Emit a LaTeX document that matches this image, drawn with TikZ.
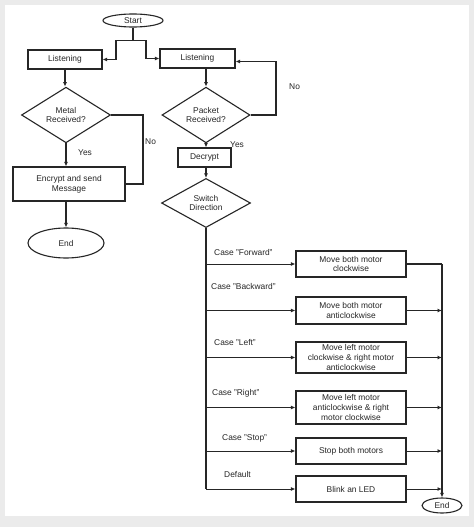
\documentclass[tikz,border=0pt]{standalone}
\usepackage{fontspec}
\setmainfont{Liberation Sans}
\usetikzlibrary{shapes.geometric,arrows.meta}
\begin{document}
\begin{tikzpicture}[x=1pt,y=-1pt,
  every node/.style={font=\fontsize{8.4}{9.8}\selectfont, text=black!85},
  procbox/.style={draw=black!85, line width=1.1pt, rectangle, inner sep=1pt, align=center},
  decision/.style={draw=black!85, line width=1.1pt, diamond, inner sep=0pt, align=center},
  terminal/.style={draw=black!85, line width=1.1pt, ellipse, inner sep=0pt, align=center},
  flow/.style={draw=black!85, line width=1.2pt},
  arr/.style={draw=black!85, line width=1.2pt, -{Latex[length=4.5pt,width=4pt]}},
  thinarr/.style={draw=black!85, line width=0.9pt, -{Latex[length=4.5pt,width=4pt]}},
  lbl/.style={anchor=west, inner sep=0pt}
]
\useasboundingbox (0,0) rectangle (474,527);
\fill[black!8] (0,0) rectangle (474,527);
\fill[white] (5,5) rectangle (469,516);

% nodes
\node[terminal, minimum width=60pt, minimum height=13pt] (start) at (133,20.5) {Start};
\node[procbox, minimum width=74pt, minimum height=19pt] (lis1) at (65,59.5) {Listening};
\node[procbox, minimum width=75pt, minimum height=19pt] (lis2) at (197.5,58.5) {Listening};
\node[decision, minimum width=89pt, minimum height=40pt] (metal) at (66,115) {Metal\\Received?};
\node[procbox, minimum width=112pt, minimum height=34pt] (enc) at (69,184) {Encrypt and send\\Message};
\node[terminal, minimum width=76pt, minimum height=30pt] (end1) at (66,243) {End};

\node[decision, minimum width=88pt, minimum height=40pt] (packet) at (206,115) {Packet\\Received?};
\node[procbox, minimum width=53pt, minimum height=19pt] (decrypt) at (204.5,157.5) {Decrypt};
\node[decision, minimum width=89pt, minimum height=42pt] (switch) at (206,203) {Switch\\Direction};

\node[procbox, minimum width=110pt, minimum height=26pt] (b1) at (351,264) {Move both motor\\clockwise};
\node[procbox, minimum width=110pt, minimum height=27pt] (b2) at (351,310.5) {Move both motor\\anticlockwise};
\node[procbox, minimum width=110pt, minimum height=31pt] (b3) at (351,357.5) {Move left motor\\clockwise \& right motor\\anticlockwise};
\node[procbox, minimum width=110pt, minimum height=33pt] (b4) at (351,407.5) {Move left motor\\anticlockwise \& right\\motor clockwise};
\node[procbox, minimum width=110pt, minimum height=26pt] (b5) at (351,451) {Stop both motors};
\node[procbox, minimum width=110pt, minimum height=26pt] (b6) at (351,489) {Blink an LED};
\node[terminal, minimum width=40pt, minimum height=15pt] (end2) at (442,505.5) {End};

% helper coordinates
\coordinate (split) at (133,40.5);
\coordinate (sl) at (116,40.5);
\coordinate (sr) at (146,40.5);
\coordinate (nol) at (143,115);
\coordinate (nor) at (276,115);
\coordinate (coll) at (442,264);
\coordinate (trunkend) at (206,489);

% start split
\draw[flow] (start.south) -- (split);
\draw[flow] (sl) -- (sr);
\draw[arr] (sl) |- (lis1.east);
\draw[arr] (sr) |- (lis2.west);

% left branch
\draw[arr] (lis1.south) -- (lis1.south |- metal.north);
\draw[arr] (metal.south) -- (metal.south |- enc.north);
\draw[flow] (metal.east) -- (nol) |- (enc.east);
\draw[arr] (enc.south -| end1.north) -- (end1.north);

% right branch
\draw[arr] (packet.north |- lis2.south) -- (packet.north);
\draw[arr] (packet.east) -- (nor) |- ([yshift=-3pt]lis2.east);
\draw[arr] (packet.south) -- (packet.south |- decrypt.north);
\draw[arr] (decrypt.south -| switch.north) -- (switch.north);

% switch trunk
\draw[flow] (switch.south) -- (trunkend);
\draw[thinarr] (trunkend) -- (b6.west);
\foreach \b in {b1,b2,b3,b4,b5}{
  \draw[thinarr] (switch.south |- \b.west) -- (\b.west);
}

% collector
\draw[flow] (b1.east) -- (coll);
\draw[arr] (coll) -- (end2.north);
\foreach \b in {b2,b3,b4,b5,b6}{
  \draw[thinarr] (\b.east) -- (coll |- \b.east);
}

% labels
\node[lbl] (lno1) at (145,142) {No};
\node[lbl] (lyes1) at (78,153) {Yes};
\node[lbl] (lno2) at (289,87) {No};
\node[lbl] (lyes2) at (230,145) {Yes};
\node[lbl] (c1) at (214,252) {Case "Forward"};
\node[lbl] (c2) at (211,286) {Case "Backward"};
\node[lbl] (c3) at (214,342) {Case "Left"};
\node[lbl] (c4) at (212,393) {Case "Right"};
\node[lbl] (c5) at (222,438) {Case "Stop"};
\node[lbl] (c6) at (224,474) {Default};
\end{tikzpicture}
\end{document}
